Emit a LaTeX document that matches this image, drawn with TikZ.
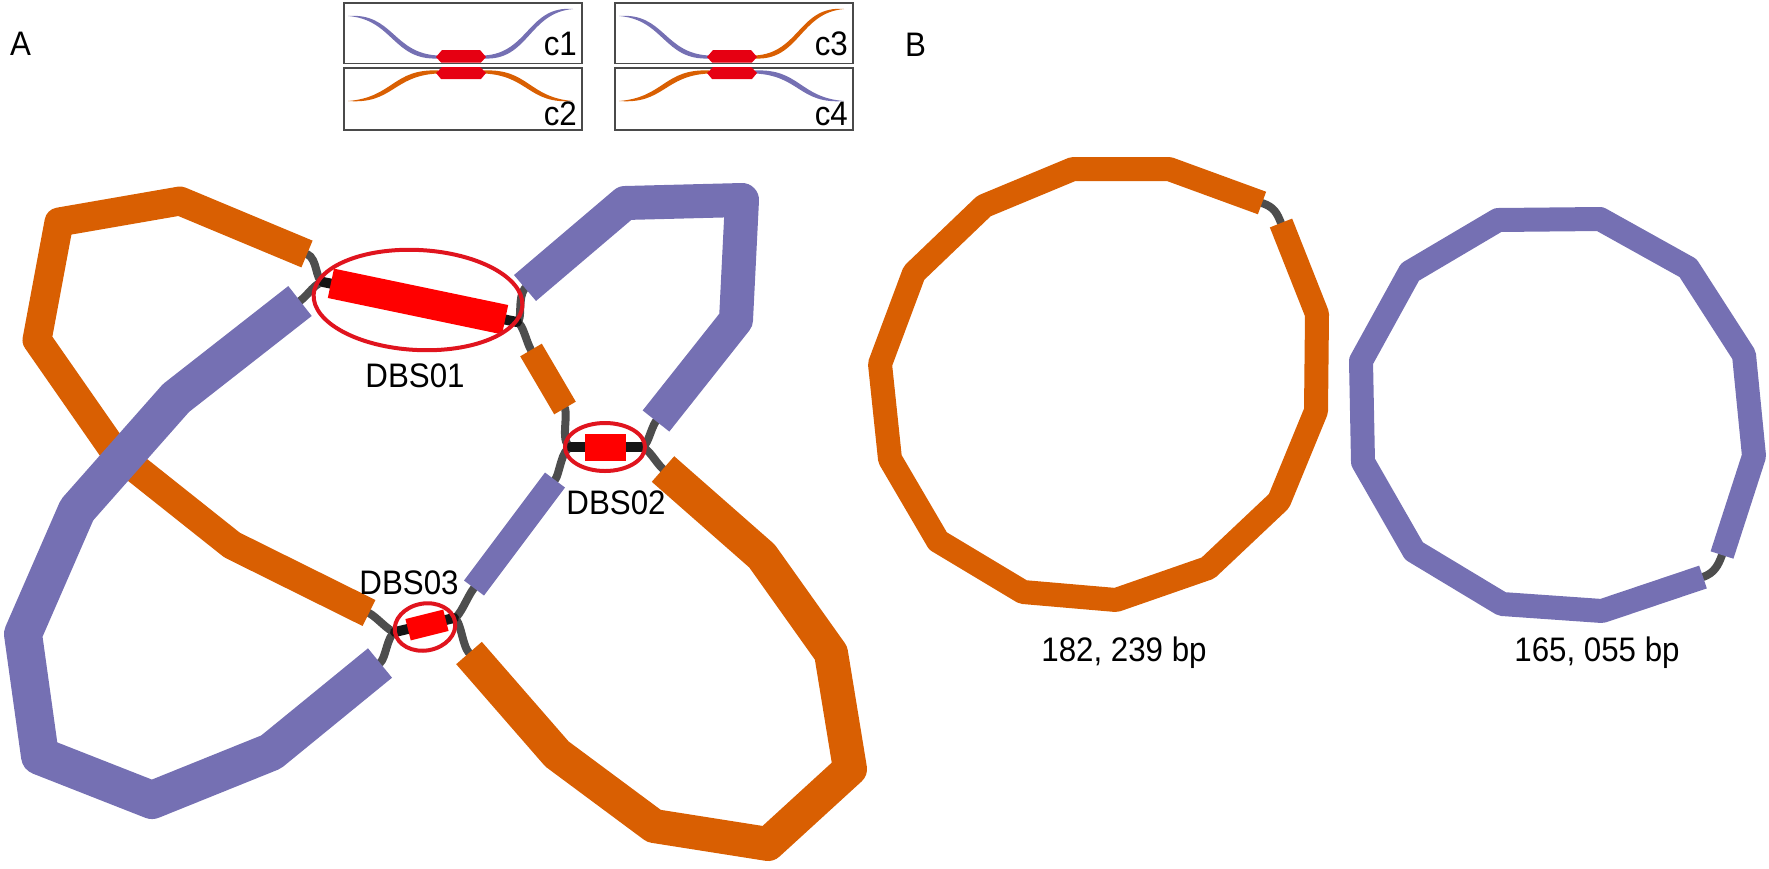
\documentclass[tikz,border=0pt]{standalone}
\usepackage{fontspec}
\setmainfont{Liberation Sans}[FakeStretch=0.92]
\usetikzlibrary{shapes.geometric}
\definecolor{orng}{HTML}{D95F02}
\definecolor{purp}{HTML}{7570B3}
\definecolor{lnk}{HTML}{4D4D4D}
\definecolor{blk}{HTML}{151515}
\definecolor{dbsred}{HTML}{FF0000}
\definecolor{ellred}{HTML}{E0141E}
\definecolor{hexred}{HTML}{E60012}
\definecolor{boxgray}{HTML}{4A4A4A}
\newcommand\sigcurve[6]{\fill[#1] (#2,#3) .. controls ({(#2+#4)/2},{#3-#6}) and ({(#2+#4)/2},{#5-#6}) .. (#4,{#5-1.5}) -- (#4,{#5+1.5}) .. controls ({(#2+#4)/2},{#5+#6}) and ({(#2+#4)/2},{#3+#6}) .. (#2,#3) -- cycle;}
\newcommand\hexat[4]{\fill[hexred] ({#1-25},#3) -- ({#1-19},#2) -- ({#1+19},#2) -- ({#1+25},#3) -- ({#1+20},#4) -- ({#1-20},#4) -- cycle;}
\begin{document}
\begin{tikzpicture}[x=1pt,y=-1pt,
  strand/.style={line width=#1, line join=round, line cap=butt},
  glink/.style={draw=lnk, line width=8pt, line cap=round},
  blink/.style={draw=blk, line width=10pt, line cap=round},
  dbsrect/.style={rectangle, fill=dbsred, draw=none, inner sep=0pt},
  dbsell/.style={ellipse, draw=ellred, line width=4pt, inner sep=0pt},
  insetbox/.style={rectangle, draw=boxgray, line width=1.5pt, inner sep=0pt, anchor=north west, minimum width=238pt},
  lab/.style={inner sep=0pt, font=\fontsize{34}{40}\selectfont}]
\useasboundingbox (0,0) rectangle (1769,868);

% ---------- insets ----------
\node[insetbox, minimum height=60.5pt] (bc1) at (343,2) {};
\node[insetbox, minimum height=62pt] (bc2) at (343,67) {};
\node[insetbox, minimum height=60.5pt] (bc3) at (614,2) {};
\node[insetbox, minimum height=62pt] (bc4) at (614,67) {};
\sigcurve{purp}{348}{16}{438}{57}{3.5}
\sigcurve{purp}{573}{9}{484}{57}{3.8}
\sigcurve{orng}{348}{101}{438}{72}{3.5}
\sigcurve{orng}{573}{101}{484}{72}{3.5}
\sigcurve{purp}{619}{16}{709}{57}{3.5}
\sigcurve{orng}{844}{9}{755}{57}{3.8}
\sigcurve{orng}{619}{101}{709}{72}{3.5}
\sigcurve{purp}{844}{101}{755}{72}{3.5}
\hexat{461}{50}{57}{62.5}
\hexat{461}{67}{73}{79}
\hexat{732}{50}{57}{62.5}
\hexat{732}{67}{73}{79}
\node[lab, anchor=base east] (tc1) at (577,55) {c1};
\node[lab, anchor=base east] (tc2) at (577,125) {c2};
\node[lab, anchor=base east] (tc3) at (848,55) {c3};
\node[lab, anchor=base east] (tc4) at (848,125) {c4};

% ---------- panel A ----------
\coordinate (O1a) at (307,254); \coordinate (O1b) at (369,613);
\coordinate (P1a) at (300,301); \coordinate (P1b) at (380,663);
\coordinate (P2a) at (525,288); \coordinate (P2b) at (656,421);
\coordinate (O2a) at (663,469); \coordinate (O2b) at (469,653);
\coordinate (O3a) at (531,350); \coordinate (O3b) at (565,408);
\coordinate (P3a) at (555,480); \coordinate (P3b) at (474,588);
\coordinate (k1L) at (323,282); \coordinate (k1R) at (517,322);
\coordinate (k2L) at (571,447); \coordinate (k2R) at (641,447);
\coordinate (k3L) at (395,632); \coordinate (k3R) at (454,618);

% links
\draw[glink] (O1a) .. controls (318,259) and (315,280) .. (k1L);
\draw[glink] (P1a) .. controls (309,294) and (314,284) .. (k1L);
\draw[glink] (k1R) .. controls (523,320) and (517,298) .. (P2a);
\draw[glink] (k1R) .. controls (523,324) and (526,341) .. (O3a);
\draw[glink] (O3b) .. controls (568,418) and (560,444) .. (k2L);
\draw[glink] (P3a) .. controls (560,473) and (561,450) .. (k2L);
\draw[glink] (k2R) .. controls (648,447) and (650,430) .. (P2b);
\draw[glink] (k2R) .. controls (648,447) and (656,463) .. (O2a);
\draw[glink] (O1b) .. controls (378,618) and (388,631) .. (k3L);
\draw[glink] (P1b) .. controls (386,658) and (387,636) .. (k3L);
\draw[glink] (k3R) .. controls (460,617) and (467,597) .. (P3b);
\draw[glink] (k3R) .. controls (461,620) and (462,645) .. (O2b);
\draw[blink] (k1L) -- (k1R);
\draw[blink] (k2L) -- (k2R);
\draw[blink] (k3L) -- (k3R);

% strands
\draw[orng, strand=29pt] (O1a) -- (180,201) -- (59,222) -- (37,340) -- (115,452) -- (232,545) -- (O1b);
\draw[purp, strand=38pt] (P1a) -- (176,398) -- (77,510) -- (23,634) -- (40,756) -- (152,800) -- (271,752) -- (P1b);
\draw[purp, strand=34pt] (P2a) -- (625,203) -- (742,200) -- (736,320) -- (P2b);
\draw[orng, strand=34pt] (O2a) -- (762,556) -- (831,653) -- (850,769) -- (768,844) -- (654,826) -- (557,754) -- (O2b);
\draw[orng, strand=25pt] (O3a) -- (O3b);
\draw[purp, strand=25pt] (P3a) -- (P3b);

% DBS sites
\node[dbsrect, minimum width=178pt, minimum height=30pt, rotate=-11.8] (r1) at (418,301.5) {};
\node[dbsrect, minimum width=41pt, minimum height=27pt] (r2) at (605.5,447.5) {};
\node[dbsrect, minimum width=39pt, minimum height=22pt, rotate=14] (r3) at (427,625) {};
\node[dbsell, minimum width=209pt, minimum height=100pt, rotate=-3] (e1) at (418,300) {};
\node[dbsell, minimum width=80pt, minimum height=48pt] (e2) at (605,447) {};
\node[dbsell, minimum width=61pt, minimum height=47pt, rotate=10] (e3) at (425,627) {};

\node[lab, anchor=base] (t1) at (415,387) {DBS01};
\node[lab, anchor=base] (t2) at (616,514) {DBS02};
\node[lab, anchor=base] (t3) at (409,594) {DBS03};
\node[lab, anchor=base west] (tA) at (10,55) {A};

% ---------- panel B ----------
\coordinate (Ba) at (1281,223); \coordinate (Bb) at (1262,203);
\coordinate (Bc) at (1722,555); \coordinate (Bd) at (1703,577);
\draw[glink] (Bb) .. controls (1274,207) and (1277,213) .. (Ba);
\draw[glink] (Bc) .. controls (1718,566) and (1714,573) .. (Bd);
\draw[orng, strand=24pt] (Ba) -- (1317,314) -- (1316,411) -- (1279,501) -- (1208,568) -- (1116,600) -- (1023,592) -- (938,541) -- (890,459) -- (880,364) -- (914,273) -- (984,206) -- (1073,169) -- (1169,169) -- (Bb);
\draw[purp, strand=24pt] (Bc) -- (1754,456) -- (1744,355) -- (1688,268) -- (1600,219) -- (1498,220) -- (1410,272) -- (1361,361) -- (1363,462) -- (1414,551) -- (1502,604) -- (1602,611) -- (Bd);
\node[lab, anchor=base west] (tB) at (905,56) {B};
\node[lab, anchor=base] (tb1) at (1124,661) {182, 239 bp};
\node[lab, anchor=base] (tb2) at (1597,661) {165, 055 bp};
\end{tikzpicture}
\end{document}
